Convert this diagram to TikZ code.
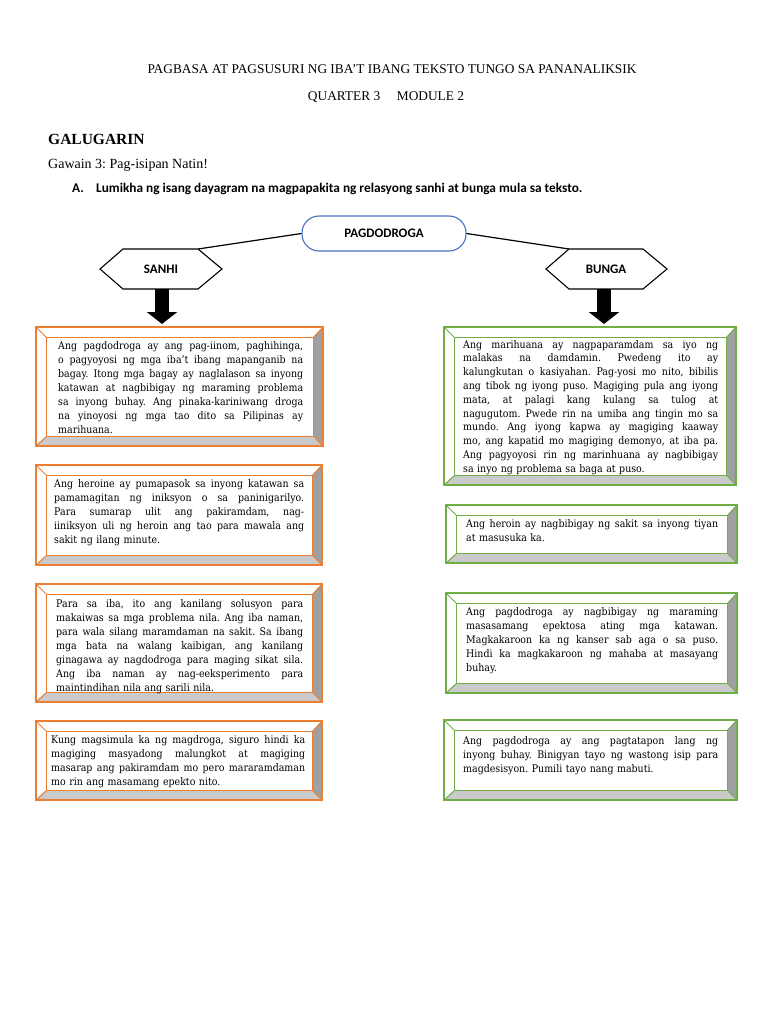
\documentclass[tikz,border=0pt]{standalone}
\usepackage{fontspec}
\setmainfont{Liberation Serif}
\newfontfamily\calibf{Carlito}
\newfontfamily\bkfont[FakeStretch=0.9]{DejaVu Serif}
\usetikzlibrary{arrows.meta}
\definecolor{orng}{HTML}{ED7D31}
\definecolor{grn}{HTML}{70AD47}
\definecolor{blu}{HTML}{4472C4}
\definecolor{bevR}{HTML}{A0A0A0}
\definecolor{bevB}{HTML}{CACACA}
\frenchspacing
\newlength\bw
\newcommand\jl[1]{\leavevmode\hbox to\bw{\spaceskip=\fontdimen2\font plus 1fil\relax#1}\\}
\newcommand\bevelbox[6]{%
  \fill[bevR] ({#4},{#3}) -- ({#4-10},{#3+10}) -- ({#4-10},{#5-10}) -- ({#4},{#5}) -- cycle;
  \fill[bevB] ({#2},{#5}) -- ({#2+10},{#5-10}) -- ({#4-10},{#5-10}) -- ({#4},{#5}) -- cycle;
  \draw[#6, line width=1.3] ({#2},{#3}) rectangle ({#4},{#5});
  \node[draw=#6, line width=1.1, inner sep=0, minimum width={#4-#2-20}, minimum height={#5-#3-20}, anchor=north west] (#1) at ({#2+10},{#3+10}) {};
  \draw[#6, line width=1] ({#2},{#3}) -- (#1.north west) ({#4},{#3}) -- (#1.north east)
    ({#2},{#5}) -- (#1.south west) ({#4},{#5}) -- (#1.south east);
}
\tikzset{
  lbl/.style={font=\calibf\bfseries\fontsize{13}{15}\selectfont, inner sep=0},
  boxtext/.style={inner sep=0, anchor=north west, text width=#1, font=\bkfont\fontsize{10.5}{14.1}\selectfont\frenchspacing},
  blockarrow/.style={line width=14pt, -{Triangle[width=30pt,length=12pt]}},
  link/.style={line width=1.2pt}
}
\begin{document}
\begin{tikzpicture}[x=1pt,y=-1pt]
\useasboundingbox (0,0) rectangle (768,1024);
\fill[white] (0,0) rectangle (768,1024);

% header
\node[anchor=base, inner sep=0, font=\fontsize{13.35}{15}\selectfont] (title) at (392,74) {PAGBASA AT PAGSUSURI NG IBA’T IBANG TEKSTO TUNGO SA PANANALIKSIK};
\node[anchor=base, inner sep=0, font=\fontsize{13.35}{15}\selectfont] (quarter) at (386,101) {QUARTER 3\hspace{1.25em}MODULE 2};
\node[anchor=base west, inner sep=0, font=\bfseries\fontsize{15.5}{17}\selectfont] (galu) at (48,145) {GALUGARIN};
\node[anchor=base west, inner sep=0, font=\fontsize{14}{16}\selectfont] (gawain) at (48,169) {Gawain 3: Pag-isipan Natin!};
\node[anchor=base west, inner sep=0, font=\calibf\bfseries\fontsize{13.3}{15}\selectfont] (aa) at (72,193) {A.};
\node[anchor=base west, inner sep=0, font=\calibf\bfseries\fontsize{13.3}{15}\selectfont] (instr) at (96,193) {Lumikha ng isang dayagram na magpapakita ng relasyong sanhi at bunga mula sa teksto.};

% top diagram
\node[draw=blu, line width=1.1pt, rounded corners=17pt, minimum width=164, minimum height=35, lbl] (pag) at (384,233.5) {PAGDODROGA};
\draw[line width=1.1pt] (100,269) -- (123,249) -- (198,249) -- (222,269) -- (198,289) -- (123,289) -- cycle;
\node[lbl] (sanhi) at (161,269) {SANHI};
\draw[line width=1.1pt] (546,269) -- (569,249) -- (643,249) -- (667,269) -- (643,289) -- (569,289) -- cycle;
\node[lbl] (bunga) at (606,269) {BUNGA};
\coordinate (sanhiTR) at (198,249);
\coordinate (bungaTL) at (569,249);
\draw[link] (sanhiTR) -- (pag.west);
\draw[link] (pag.east) -- (bungaTL);
\coordinate (sanhiB) at (162,289);
\coordinate (sanhiT) at (162,324);
\coordinate (bungaB) at (604,289);
\coordinate (bungaT) at (604,324);
\draw[blockarrow] (sanhiB) -- (sanhiT);
\draw[blockarrow] (bungaB) -- (bungaT);

% left boxes
\bevelbox{L1}{36}{327}{323}{446}{orng}
\bevelbox{L2}{36}{465}{322}{565}{orng}
\bevelbox{L3}{36}{584}{322}{702}{orng}
\bevelbox{L4}{36}{721}{322}{800}{orng}
% right boxes
\bevelbox{R1}{444}{327}{736}{485}{grn}
\bevelbox{R2}{446}{505}{737}{563}{grn}
\bevelbox{R3}{446}{593}{737}{693}{grn}
\bevelbox{R4}{444}{720}{737}{800}{grn}

\node[boxtext=245pt] (t1) at (58,341) {\setlength\bw{245pt}%
\jl{Ang pagdodroga ay ang pag-iinom, paghihinga,}
\jl{o pagyoyosi ng mga iba’t ibang mapanganib na}
\jl{bagay. Itong mga bagay ay naglalason sa inyong}
\jl{katawan at nagbibigay ng maraming problema}
\jl{sa inyong buhay. Ang pinaka-kariniwang droga}
\jl{na yinoyosi ng mga tao dito sa Pilipinas ay}
marihuana.};

\node[boxtext=250pt] (t2) at (54,479) {\setlength\bw{250pt}%
\jl{Ang heroine ay pumapasok sa inyong katawan sa}
\jl{pamamagitan ng iniksyon o sa paninigarilyo.}
\jl{Para sumarap ulit ang pakiramdam, nag-}
\jl{iiniksyon uli ng heroin ang tao para mawala ang}
sakit ng ilang minute.};

\node[boxtext=247pt] (t3) at (56,599) {\setlength\bw{247pt}%
\jl{Para sa iba, ito ang kanilang solusyon para}
\jl{makaiwas sa mga problema nila. Ang iba naman,}
\jl{para wala silang maramdaman na sakit. Sa ibang}
\jl{mga bata na walang kaibigan, ang kanilang}
\jl{ginagawa ay nagdodroga para maging sikat sila.}
\jl{Ang iba naman ay nag-eeksperimento para}
maintindihan nila ang sarili nila.};

\node[boxtext=254pt] (t4) at (51,735) {\setlength\bw{254pt}%
\jl{Kung magsimula ka ng magdroga, siguro hindi ka}
\jl{magiging masyadong malungkot at magiging}
\jl{masarap ang pakiramdam mo pero mararamdaman}
mo rin ang masamang epekto nito.};

\node[boxtext=255pt, font=\bkfont\fontsize{10.5}{13.8}\selectfont] (u1) at (463,340) {\setlength\bw{255pt}%
\jl{Ang marihuana ay nagpaparamdam sa iyo ng}
\jl{malakas na damdamin. Pwedeng ito ay}
\jl{kalungkutan o kasiyahan. Pag-yosi mo nito, bibilis}
\jl{ang tibok ng iyong puso. Magiging pula ang iyong}
\jl{mata, at palagi kang kulang sa tulog at}
\jl{nagugutom. Pwede rin na umiba ang tingin mo sa}
\jl{mundo. Ang iyong kapwa ay magiging kaaway}
\jl{mo, ang kapatid mo magiging demonyo, at iba pa.}
\jl{Ang pagyoyosi rin ng marinhuana ay nagbibigay}
sa inyo ng problema sa baga at puso.};

\node[boxtext=252pt] (u2) at (466,519) {\setlength\bw{252pt}%
\jl{Ang heroin ay nagbibigay ng sakit sa inyong tiyan}
at masusuka ka.};

\node[boxtext=252pt] (u3) at (466,607) {\setlength\bw{252pt}%
\jl{Ang pagdodroga ay nagbibigay ng maraming}
\jl{masasamang epektosa ating mga katawan.}
\jl{Magkakaroon ka ng kanser sab aga o sa puso.}
\jl{Hindi ka magkakaroon ng mahaba at masayang}
buhay.};

\node[boxtext=255pt] (u4) at (463,736) {\setlength\bw{255pt}%
\jl{Ang pagdodroga ay ang pagtatapon lang ng}
\jl{inyong buhay. Binigyan tayo ng wastong isip para}
magdesisyon. Pumili tayo nang mabuti.};
\end{tikzpicture}
\end{document}
